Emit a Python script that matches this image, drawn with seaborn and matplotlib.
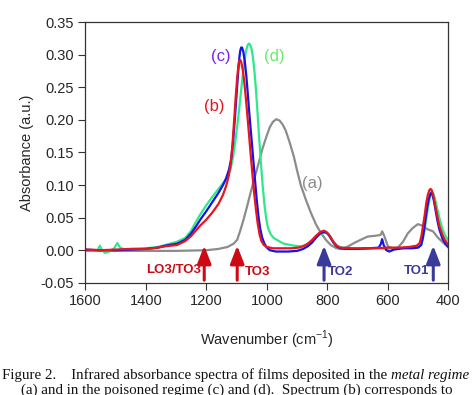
import numpy as np
import pandas as pd
import seaborn as sns
import matplotlib.pyplot as plt
from matplotlib.ticker import FormatStrFormatter

# Spectra (wavenumber in cm-1, absorbance in a.u.)
wn_a = [1600, 1500, 1400, 1300, 1200, 1160, 1130, 1110, 1098, 1088, 1077, 1066, 1054, 1040, 1027, 1015,
        1001, 990, 980, 969, 958, 948, 938, 925, 911, 900, 888, 870, 855, 838, 822, 805, 789, 770, 755,
        735, 712, 690, 667, 645, 630, 623, 619, 612, 600, 585, 567, 550, 534, 518, 501, 488, 468, 451,
        434, 418, 400]
abs_a = [-0.001, -0.001, -0.001, -0.001, 0.0, 0.002, 0.005, 0.010, 0.016, 0.030, 0.047, 0.066, 0.088,
         0.112, 0.134, 0.155, 0.175, 0.189, 0.197, 0.201, 0.199, 0.193, 0.184, 0.166, 0.144, 0.122,
         0.100, 0.076, 0.058, 0.040, 0.027, 0.016, 0.008, 0.003, 0.002, 0.005, 0.011, 0.016, 0.021,
         0.022, 0.023, 0.024, 0.029, 0.022, 0.006, 0.003, 0.004, 0.013, 0.026, 0.034, 0.040, 0.038,
         0.032, 0.029, 0.019, 0.012, 0.004]

wn_b = [1600, 1550, 1500, 1450, 1400, 1360, 1336, 1297, 1270, 1250, 1235, 1220, 1200, 1180, 1160, 1145,
        1135, 1127, 1120, 1114, 1108, 1103, 1098, 1094, 1091, 1088, 1085, 1080, 1075, 1070, 1065, 1060,
        1054, 1048, 1042, 1036, 1030, 1024, 1018, 1010, 1000, 980, 950, 920, 895, 880, 865, 850, 838,
        826, 818, 811, 803, 795, 787, 779, 770, 758, 720, 680, 640, 600, 560, 530, 505, 495, 489, 484,
        478, 473, 468, 463, 459, 455, 450, 445, 440, 434, 429, 420, 412, 400]
abs_b = [0.001, 0.0, 0.001, 0.002, 0.002, 0.004, 0.006, 0.008, 0.014, 0.022, 0.030, 0.038, 0.047, 0.058,
         0.071, 0.085, 0.098, 0.112, 0.130, 0.160, 0.200, 0.235, 0.265, 0.284, 0.291, 0.292, 0.289,
         0.278, 0.260, 0.236, 0.210, 0.183, 0.150, 0.118, 0.088, 0.062, 0.040, 0.024, 0.014, 0.008,
         0.005, 0.003, 0.003, 0.003, 0.004, 0.006, 0.010, 0.016, 0.022, 0.027, 0.029, 0.030, 0.028,
         0.024, 0.018, 0.012, 0.007, 0.004, 0.003, 0.003, 0.003, 0.004, 0.004, 0.005, 0.007, 0.011,
         0.022, 0.037, 0.055, 0.073, 0.085, 0.092, 0.094, 0.092, 0.084, 0.072, 0.060, 0.046, 0.036,
         0.024, 0.016, 0.008]

wn_c = [1600, 1550, 1500, 1450, 1400, 1360, 1336, 1297, 1270, 1250, 1235, 1220, 1200, 1180, 1160, 1145,
        1135, 1125, 1118, 1112, 1106, 1100, 1095, 1091, 1088, 1085, 1082, 1078, 1073, 1068, 1063, 1058,
        1052, 1046, 1040, 1034, 1028, 1022, 1016, 1008, 1000, 990, 970, 930, 900, 880, 865, 850, 838,
        826, 818, 811, 803, 795, 787, 779, 770, 758, 740, 700, 660, 630, 623, 619, 614, 605, 595, 580,
        550, 520, 500, 490, 485, 480, 475, 470, 465, 460, 457, 453, 448, 443, 437, 430, 420, 410, 400]
abs_c = [0.001, 0.0, 0.0, 0.001, 0.002, 0.004, 0.007, 0.010, 0.016, 0.026, 0.036, 0.047, 0.060, 0.074,
         0.088, 0.100, 0.110, 0.124, 0.140, 0.165, 0.200, 0.240, 0.272, 0.295, 0.306, 0.311, 0.311,
         0.305, 0.290, 0.268, 0.240, 0.210, 0.178, 0.145, 0.112, 0.080, 0.053, 0.033, 0.020, 0.010,
         0.004, 0.0, -0.002, -0.002, -0.001, 0.002, 0.006, 0.012, 0.019, 0.025, 0.027, 0.028, 0.027,
         0.023, 0.017, 0.011, 0.006, 0.003, 0.002, 0.002, 0.003, 0.004, 0.010, 0.017, 0.008, 0.0,
         -0.002, 0.001, 0.003, 0.003, 0.004, 0.008, 0.018, 0.032, 0.050, 0.066, 0.078, 0.086, 0.088,
         0.085, 0.076, 0.063, 0.047, 0.032, 0.018, 0.010, 0.005]

wn_d = [1600, 1580, 1560, 1552, 1545, 1535, 1520, 1505, 1494, 1485, 1470, 1450, 1400, 1360, 1336, 1297,
        1270, 1250, 1235, 1220, 1200, 1180, 1160, 1145, 1130, 1120, 1112, 1104, 1096, 1088, 1081, 1075,
        1069, 1064, 1060, 1056, 1051, 1046, 1041, 1036, 1031, 1026, 1020, 1014, 1008, 1002, 996, 988,
        978, 960, 944, 910, 888, 870, 855, 840, 825, 812, 800, 790, 780, 765, 740, 700, 660, 630, 600,
        560, 520, 500, 490, 484, 478, 472, 466, 461, 457, 454, 450, 445, 440, 434, 428, 420, 412, 405,
        400]
abs_d = [0.0, 0.0, 0.0, 0.007, 0.0, -0.004, -0.002, 0.003, 0.011, 0.004, 0.001, 0.002, 0.003, 0.005,
         0.008, 0.013, 0.019, 0.030, 0.043, 0.055, 0.069, 0.082, 0.094, 0.103, 0.112, 0.125, 0.142,
         0.168, 0.198, 0.232, 0.263, 0.288, 0.305, 0.314, 0.317, 0.316, 0.310, 0.296, 0.274, 0.246,
         0.212, 0.176, 0.136, 0.100, 0.070, 0.048, 0.034, 0.025, 0.019, 0.014, 0.010, 0.007, 0.006,
         0.008, 0.012, 0.018, 0.024, 0.027, 0.026, 0.021, 0.013, 0.006, 0.003, 0.002, 0.003, 0.003,
         0.002, 0.003, 0.004, 0.006, 0.008, 0.018, 0.034, 0.052, 0.070, 0.082, 0.089, 0.090, 0.087,
         0.080, 0.070, 0.058, 0.046, 0.033, 0.024, 0.018, 0.015]

curve_names = ["(a)", "(d)", "(c)", "(b)"]
curve_colors = ["#8c8c8c", "#2ee88c", "#1414e6", "#e8141e"]

# band assignments: position, label, colour
band_pos = [1207, 1098, 811, 450]
band_labels = ["LO3/TO3", "TO3", "TO2", "TO1"]
band_colors = ["#cc0a14", "#cc0a14", "#3a3a9a", "#3a3a9a"]

frames = []
for name, wn, ab in [("(a)", wn_a, abs_a), ("(d)", wn_d, abs_d),
                     ("(c)", wn_c, abs_c), ("(b)", wn_b, abs_b)]:
    frames.append(pd.DataFrame({"wavenumber": wn, "absorbance": ab, "spectrum": name}))
df = pd.concat(frames, ignore_index=True)

sns.set_theme(style="ticks")
plt.rcParams["font.family"] = ["Liberation Sans", "DejaVu Sans"]
plt.rcParams["axes.unicode_minus"] = False
plt.rcParams["mathtext.fontset"] = "custom"
plt.rcParams["mathtext.rm"] = "Liberation Sans"

fig = plt.figure(figsize=(4.74, 3.95), dpi=100)
ax = fig.add_axes([0.180, 0.284, 0.766, 0.660])

sns.lineplot(data=df, x="wavenumber", y="absorbance", hue="spectrum",
             palette=dict(zip(curve_names, curve_colors)), hue_order=curve_names,
             sort=False, estimator=None, lw=1.6, legend=False, ax=ax)

ax.set_xlim(1600, 400)
ax.set_ylim(-0.05, 0.35)
ax.set_xticks(np.arange(1600, 399, -200))
ax.set_yticks(np.arange(-0.05, 0.351, 0.05))
ax.yaxis.set_major_formatter(FormatStrFormatter("%.2f"))
ax.tick_params(labelsize=10.5, length=5, width=0.8, color="#333333", pad=3)
for s in ax.spines.values():
    s.set_color("#333333")
    s.set_linewidth(0.9)

ax.set_xlabel("Wavenumber (cm$^{-1}$)", fontsize=10.5)
ax.set_ylabel("Absorbance (a.u.)", fontsize=10.5)
ax.xaxis.set_label_coords(0.5, -0.175)
ax.yaxis.set_label_coords(-0.14, 0.5)

# curve labels
ax.text(1175, 0.221, "(b)", color="#e8141e", fontsize=12, ha="center", va="center")
ax.text(1153, 0.298, "(c)", color="#7a22ee", fontsize=12, ha="center", va="center")
ax.text(974, 0.298, "(d)", color="#66ee66", fontsize=12, ha="center", va="center")
ax.text(849, 0.103, "(a)", color="#8c8c8c", fontsize=12, ha="center", va="center")

# band arrows
for x, lab, c in zip(band_pos, band_labels, band_colors):
    ax.annotate("", xy=(x, 0.007), xytext=(x, -0.046),
                arrowprops=dict(arrowstyle="-|>,head_width=0.35,head_length=0.9",
                                lw=2.2, color=c, shrinkA=0, shrinkB=0))
ax.text(1218, -0.031, "LO3/TO3", color=band_colors[0], fontsize=9.5, fontweight="bold",
        ha="right", va="center")
ax.text(1072, -0.034, "TO3", color=band_colors[1], fontsize=9.5, fontweight="bold",
        ha="left", va="center")
ax.text(800, -0.033, "TO2", color=band_colors[2], fontsize=9.5, fontweight="bold",
        ha="left", va="center")
ax.text(462, -0.032, "TO1", color=band_colors[3], fontsize=9.5, fontweight="bold",
        ha="right", va="center")

# caption below the chart
cap = dict(family=["Liberation Serif", "DejaVu Serif"], fontsize=10.8, color="#111111")
t1 = fig.text(0.004, 0.040, "Figure 2.    Infrared absorbance spectra of films deposited in the ",
              ha="left", va="baseline", **cap)
fig.canvas.draw()
bb = t1.get_window_extent()
fig.text(bb.x1 / fig.bbox.width, 0.040, "metal regime", style="italic",
         ha="left", va="baseline", **cap)
fig.text(0.5, 0.002, "(a) and in the poisoned regime (c) and (d).  Spectrum (b) corresponds to",
         ha="center", va="baseline", **cap)

fig.savefig("out.png", dpi=100)
